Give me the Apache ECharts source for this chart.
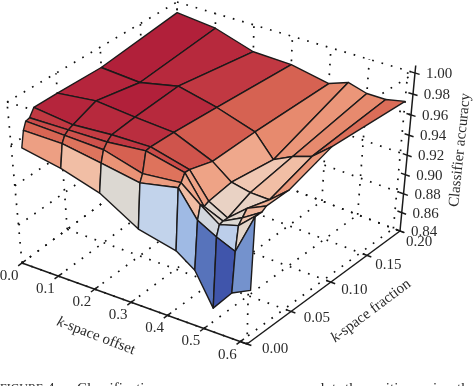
<!DOCTYPE html>
<html>
<head>
<meta charset="utf-8">
<style>
html, body { margin: 0; padding: 0; background: #fff; }
#chart { width: 474px; height: 386px; }
</style>
<script src="https://cdn.jsdelivr.net/npm/echarts@6/dist/echarts.min.js"></script>
</head>
<body>
<div id="chart"></div>
<script>
// axis values
var offsetTicks = [0, 0.1, 0.2, 0.3, 0.4, 0.5, 0.6];
var fractionTicks = [0, 0.05, 0.1, 0.15, 0.2];
var accuracyTicks = [0.84, 0.86, 0.88, 0.9, 0.92, 0.94, 0.96, 0.98, 1];
var accuracyGrid = [0.84, 0.88, 0.92, 0.96, 1];

// sampled grid of the surface
var offsets = [0, 0.1, 0.2, 0.3, 0.4, 0.45, 0.5, 0.55, 0.6];
var fractions = [0.2, 0.1, 0.05, 0.025, 0.02, 0.016, 0.013, 0.01];

// one list per offset, same order as fractions
var acc00 = [0.989, 0.980, 0.981, 0.981, 0.974, 0.973, 0.966, 0.951];
var acc10 = [0.985, 0.977, 0.985, 0.976, 0.974, 0.971, 0.965, 0.943];
var acc20 = [0.973, 0.985, 0.981, 0.978, 0.974, 0.969, 0.958, 0.931];
var acc30 = [0.972, 0.976, 0.978, 0.978, 0.977, 0.958, 0.951, 0.908];
var acc40 = [0.965, 0.964, 0.962, 0.968, 0.968, 0.961, 0.958, 0.899];
var acc45 = [0.972, 0.943, 0.948, 0.944, 0.942, 0.946, 0.933, 0.886];
var acc50 = [0.967, 0.952, 0.944, 0.934, 0.934, 0.933, 0.923, 0.854];
var acc55 = [0.967, 0.958, 0.943, 0.949, 0.943, 0.938, 0.915, 0.876];
var acc60 = [0.971, 0.973, 0.958, 0.957, 0.954, 0.954, 0.954, 0.885];
var accuracy = [acc00, acc10, acc20, acc30, acc40, acc45, acc50, acc55, acc60];

// colour ramp, accuracy -> colour
var rampLevels = [0.89, 0.9, 0.91, 0.92, 0.93, 0.937, 0.945, 0.952, 0.96, 0.968, 0.975, 0.982];
var rampColors = ['#3a4ca6', '#5a77bd', '#7d9bd3', '#a3bde6', '#c6d5ec', '#dcd8d2', '#efd0bd', '#f2b296', '#e98f72', '#da6a55', '#c53e44', '#b1203a'];

var FONT = '"Liberation Serif", serif';
var TEXT_COLOR = '#2b2b2b';

// box corners on the page, [offset][fraction], floor then top
var floorBox = [[[22, 263], [179, 146]], [[247, 344], [400, 231]]];
var topBox = [[[7, 102], [177, 2]], [[251, 176], [415, 73]]];
var OFFSET_MAX = 0.6185;
var ACC_MIN = 0.84;
var ACC_MAX = 1;

// perspective squeeze along one box edge
function warp(t, k) {
    return t * (1 + k) / (1 + k * t);
}

function mix(a, b, t) {
    return a + (b - a) * t;
}

function bilinear(box, u, v, i) {
    return mix(mix(box[0][0][i], box[0][1][i], v), mix(box[1][0][i], box[1][1][i], v), u);
}

// data values -> flat x/y that the hidden cartesian axes take
function project(offset, fraction, acc) {
    var u = offset / OFFSET_MAX;
    var v = warp(fraction / 0.2, 0.213);
    var w = warp((acc - ACC_MIN) / (ACC_MAX - ACC_MIN), -0.077);
    return [
        mix(bilinear(floorBox, u, v, 0), bilinear(topBox, u, v, 0), w),
        mix(bilinear(floorBox, u, v, 1), bilinear(topBox, u, v, 1), w)
    ];
}

function cellColor(value) {
    if (value <= rampLevels[0]) return rampColors[0];
    for (var i = 1; i < rampLevels.length; i++) {
        if (value <= rampLevels[i]) {
            var t = (value - rampLevels[i - 1]) / (rampLevels[i] - rampLevels[i - 1]);
            return echarts.color.lerp(t, [rampColors[i - 1], rampColors[i]]);
        }
    }
    return rampColors[rampColors.length - 1];
}

// dotted box walls
var wallLines = [];
offsetTicks.forEach(function (o) {
    wallLines.push([[o, 0, ACC_MIN], [o, 0.2, ACC_MIN]]);
    wallLines.push([[o, 0.2, ACC_MIN], [o, 0.2, ACC_MAX]]);
});
fractionTicks.forEach(function (f) {
    wallLines.push([[0, f, ACC_MIN], [OFFSET_MAX, f, ACC_MIN]]);
    wallLines.push([[0, f, ACC_MIN], [0, f, ACC_MAX]]);
});
accuracyGrid.forEach(function (a) {
    wallLines.push([[0, 0, a], [0, 0.2, a]]);
    wallLines.push([[0, 0.2, a], [OFFSET_MAX, 0.2, a]]);
});
wallLines.push([[0, 0, ACC_MAX], [OFFSET_MAX, 0, ACC_MAX]]);
wallLines.push([[OFFSET_MAX, 0, ACC_MAX], [OFFSET_MAX, 0.2, ACC_MAX]]);
wallLines.push([[OFFSET_MAX, 0, ACC_MIN], [OFFSET_MAX, 0, ACC_MAX]]);

// surface cells, back to front
var cells = [];
for (var r = 0; r < fractions.length - 1; r++) {
    for (var c = 0; c < offsets.length - 1; c++) {
        cells.push([c, r]);
    }
}

// solid axes and their ticks
var axisLines = [
    [[0, 0, ACC_MIN], [OFFSET_MAX, 0, ACC_MIN]],
    [[OFFSET_MAX, 0, ACC_MIN], [OFFSET_MAX, 0.2, ACC_MIN]],
    [[OFFSET_MAX, 0.2, ACC_MIN], [OFFSET_MAX, 0.2, 1.007]]
];
offsetTicks.forEach(function (o) {
    axisLines.push([[o, -0.004, ACC_MIN], [o, 0.004, ACC_MIN]]);
});
fractionTicks.forEach(function (f) {
    axisLines.push([[OFFSET_MAX - 0.012, f, ACC_MIN], [OFFSET_MAX + 0.012, f, ACC_MIN]]);
});
accuracyTicks.forEach(function (a) {
    axisLines.push([[OFFSET_MAX - 0.012, 0.2, a], [OFFSET_MAX + 0.012, 0.2, a]]);
});

// labels, placed from the tick they belong to
var labels = [];
offsetTicks.forEach(function (o) {
    var p = project(o, 0, ACC_MIN);
    labels.push({ text: o.toFixed(1), x: p[0] - 13, y: p[1] + 13 });
});
fractionTicks.forEach(function (f) {
    var p = project(OFFSET_MAX, f, ACC_MIN);
    labels.push({ text: f.toFixed(2), x: p[0] + 28 - f * 45, y: p[1] + 5 + f * 30 });
});
accuracyTicks.forEach(function (a) {
    var p = project(OFFSET_MAX, 0.2, a);
    labels.push({ text: a.toFixed(2), x: p[0] + 24, y: p[1] + 1 });
});
labels.push({ text: '{i|k}-space offset', x: 96, y: 336, rotation: -21 });
labels.push({ text: '{i|k}-space fraction', x: 371, y: 311, rotation: 37 });
labels.push({ text: 'Classifier accuracy', x: 460, y: 150, rotation: 84 });

// caption, clipped by the bottom of the picture
var captionWords = ['{s|FIGURE} 4:', 'Classification', 'accuracy', 'compared', 'to', 'the', 'position', 'in', 'the'];
var captionStarts = [0, 77, 165, 265, 332, 345, 365, 433, 457];
captionWords.forEach(function (word, i) {
    labels.push({ text: word, x: captionStarts[i], y: 389, align: 'left' });
});

function coordOf(api, p3) {
    return api.coord(project(p3[0], p3[1], p3[2]));
}

var chart = echarts.init(document.getElementById('chart'), null, { renderer: 'canvas' });

chart.setOption({
    animation: false,
    backgroundColor: '#fff',
    grid: { left: 0, right: 0, top: 0, bottom: 0 },
    xAxis: { type: 'value', min: 0, max: 474, show: false },
    yAxis: { type: 'value', min: 0, max: 386, inverse: true, show: false },
    series: [
        {
            type: 'custom',
            coordinateSystem: 'cartesian2d',
            silent: true,
            clip: false,
            data: wallLines.map(function (l, i) { return [i]; }),
            renderItem: function (params, api) {
                var l = wallLines[api.value(0)];
                var a = coordOf(api, l[0]);
                var b = coordOf(api, l[1]);
                return {
                    type: 'line',
                    shape: { x1: a[0], y1: a[1], x2: b[0], y2: b[1] },
                    style: { stroke: '#111', lineWidth: 1.7, lineDash: [1.7, 8], fill: null }
                };
            }
        },
        {
            type: 'custom',
            coordinateSystem: 'cartesian2d',
            silent: true,
            clip: false,
            data: cells,
            renderItem: function (params, api) {
                var c = api.value(0);
                var r = api.value(1);
                var a = accuracy[c][r], b = accuracy[c + 1][r], d = accuracy[c + 1][r + 1], e = accuracy[c][r + 1];
                return {
                    type: 'polygon',
                    shape: {
                        points: [
                            coordOf(api, [offsets[c], fractions[r], a]),
                            coordOf(api, [offsets[c + 1], fractions[r], b]),
                            coordOf(api, [offsets[c + 1], fractions[r + 1], d]),
                            coordOf(api, [offsets[c], fractions[r + 1], e])
                        ]
                    },
                    style: { fill: cellColor((a + b + d + e) / 4), stroke: '#1c1a1a', lineWidth: 1.4, lineJoin: 'round' }
                };
            }
        },
        {
            type: 'custom',
            coordinateSystem: 'cartesian2d',
            silent: true,
            clip: false,
            data: axisLines.map(function (l, i) { return [i]; }),
            renderItem: function (params, api) {
                var l = axisLines[api.value(0)];
                var a = coordOf(api, l[0]);
                var b = coordOf(api, l[1]);
                return {
                    type: 'line',
                    shape: { x1: a[0], y1: a[1], x2: b[0], y2: b[1] },
                    style: { stroke: '#1a1a1a', lineWidth: 1.5, fill: null }
                };
            }
        },
        {
            type: 'custom',
            coordinateSystem: 'cartesian2d',
            silent: true,
            clip: false,
            data: labels.map(function (l, i) { return [i]; }),
            renderItem: function (params, api) {
                var l = labels[api.value(0)];
                var p = api.coord([l.x, l.y]);
                return {
                    type: 'text',
                    x: p[0],
                    y: p[1],
                    rotation: (l.rotation || 0) * Math.PI / 180,
                    style: {
                        text: l.text,
                        font: '15px ' + FONT,
                        fill: TEXT_COLOR,
                        align: l.align || 'center',
                        verticalAlign: 'middle',
                        rich: {
                            i: { fontStyle: 'italic', fontSize: 15, fontFamily: FONT, fill: TEXT_COLOR },
                            s: { fontSize: 12, fontFamily: FONT, fill: TEXT_COLOR }
                        }
                    }
                };
            }
        }
    ]
});
</script>
</body>
</html>
